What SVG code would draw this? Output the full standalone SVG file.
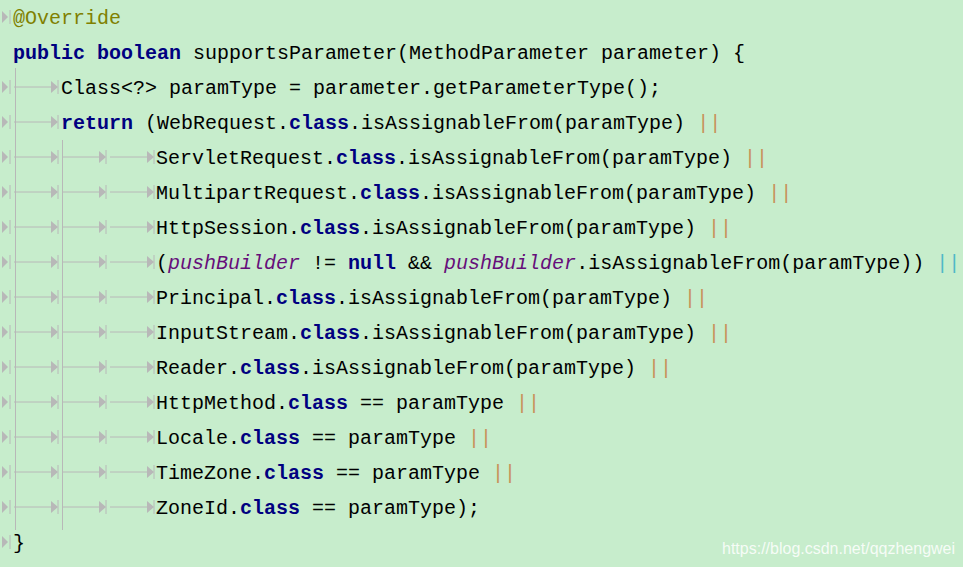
<svg xmlns="http://www.w3.org/2000/svg" width="963" height="567" viewBox="0 0 963 567">
<style>
text{font-family:"Liberation Mono","DejaVu Sans Mono",monospace;font-size:20px;fill:#000;white-space:pre}
.k{fill:#000080;font-weight:bold}
.a{fill:#808000}
.p{fill:#660e7a;font-style:italic}
.o{fill:#c8915a}
.t{fill:#4fb8c8}
.tab{stroke:#b8b8b8;stroke-width:1;fill:none}
.tri{fill:#b8b8b8}
</style>
<defs>
<g id="tab"><path class="tab" d="M2,0H42M46,-7V7"/><path class="tri" d="M39,-6L46,0L39,6Z"/></g>
<g id="gut"><path class="tri" d="M2,-6L8,0L2,6Z"/><path class="tab" d="M10,-7V7"/></g>
</defs>
<rect width="963" height="567" fill="#c7edcc"/>
<g id="guides">
<use href="#gut" x="0" y="17"/>
<use href="#gut" x="0" y="87"/><use href="#tab" x="12" y="87"/>
<use href="#gut" x="0" y="122"/><use href="#tab" x="12" y="122"/>
<g id="t3"><use href="#tab" x="12" y="157"/><use href="#tab" x="60" y="157"/><use href="#tab" x="108" y="157"/></g>
<use href="#gut" x="0" y="157"/>
<use href="#t3" y="35"/><use href="#t3" y="70"/><use href="#t3" y="105"/><use href="#t3" y="140"/><use href="#t3" y="175"/><use href="#t3" y="210"/><use href="#t3" y="245"/><use href="#t3" y="280"/><use href="#t3" y="315"/><use href="#t3" y="350"/>
<use href="#gut" x="0" y="192"/><use href="#gut" x="0" y="227"/><use href="#gut" x="0" y="262"/><use href="#gut" x="0" y="297"/><use href="#gut" x="0" y="332"/><use href="#gut" x="0" y="367"/><use href="#gut" x="0" y="402"/><use href="#gut" x="0" y="437"/><use href="#gut" x="0" y="472"/><use href="#gut" x="0" y="507"/><use href="#gut" x="0" y="542"/>
<path class="tab" d="M15.5,68V530M62.5,140V530"/>
</g>
<g id="code">
<text x="13" y="24" class="a">@Override</text>
<text x="13" y="59"><tspan class="k">public boolean</tspan> supportsParameter(MethodParameter parameter) {</text>
<text x="61" y="94">Class&lt;?&gt; paramType = parameter.getParameterType();</text>
<text x="61" y="129"><tspan class="k">return</tspan> (WebRequest.<tspan class="k">class</tspan>.isAssignableFrom(paramType) <tspan class="o">||</tspan></text>
<text x="156" y="164">ServletRequest.<tspan class="k">class</tspan>.isAssignableFrom(paramType) <tspan class="o">||</tspan></text>
<text x="156" y="199">MultipartRequest.<tspan class="k">class</tspan>.isAssignableFrom(paramType) <tspan class="o">||</tspan></text>
<text x="156" y="234">HttpSession.<tspan class="k">class</tspan>.isAssignableFrom(paramType) <tspan class="o">||</tspan></text>
<text x="156" y="269">(<tspan class="p">pushBuilder</tspan> != <tspan class="k">null</tspan> &amp;&amp; <tspan class="p">pushBuilder</tspan>.isAssignableFrom(paramType)) <tspan class="t">||</tspan></text>
<text x="156" y="304">Principal.<tspan class="k">class</tspan>.isAssignableFrom(paramType) <tspan class="o">||</tspan></text>
<text x="156" y="339">InputStream.<tspan class="k">class</tspan>.isAssignableFrom(paramType) <tspan class="o">||</tspan></text>
<text x="156" y="374">Reader.<tspan class="k">class</tspan>.isAssignableFrom(paramType) <tspan class="o">||</tspan></text>
<text x="156" y="409">HttpMethod.<tspan class="k">class</tspan> == paramType <tspan class="o">||</tspan></text>
<text x="156" y="444">Locale.<tspan class="k">class</tspan> == paramType <tspan class="o">||</tspan></text>
<text x="156" y="479">TimeZone.<tspan class="k">class</tspan> == paramType <tspan class="o">||</tspan></text>
<text x="156" y="514">ZoneId.<tspan class="k">class</tspan> == paramType);</text>
<text x="13" y="549">}</text>
</g>
<text x="722" y="554" style="font-family:'Liberation Sans',Arial,sans-serif;font-size:16px;fill:#ffffff;fill-opacity:0.85">https://blog.csdn.net/qqzhengwei</text>
</svg>
